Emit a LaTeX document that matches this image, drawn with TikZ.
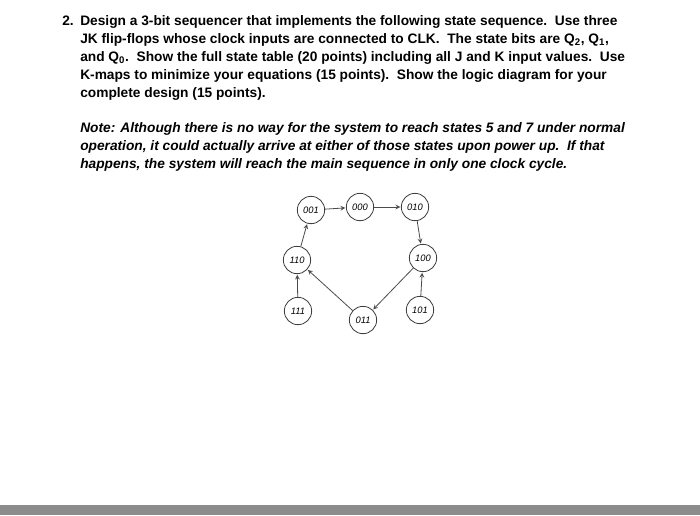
\documentclass[tikz,border=0pt]{standalone}
\usepackage{fontspec}
\setmainfont{Liberation Sans}
\begin{document}
\begin{tikzpicture}[x=0.75pt,y=-0.75pt,
  ln/.style={anchor=base west,inner sep=0pt,font=\fontsize{10.3}{11}\selectfont\bfseries},
  st/.style={circle,draw=black!75,line width=0.6pt,minimum size=20.5pt,inner sep=0pt,font=\fontsize{7}{8}\selectfont\itshape},
  ar/.style={->,>=stealth,draw=black!70,line width=0.6pt,shorten >=0.5pt}]
\fill[white] (0,0) rectangle (700,515);
\fill[black!45] (0,505) rectangle (700,515);
\node[ln] (n2) at (62,25) {2.};
\node[ln] (l1) at (80,25) {Design a 3-bit sequencer that implements the following state sequence.\ \ Use three};
\node[ln] (l2) at (80,43) {JK flip-flops whose clock inputs are connected to CLK.\ \ The state bits are Q\textsubscript{2}, Q\textsubscript{1},};
\node[ln] (l3) at (80,61) {and Q\textsubscript{0}.\ \ Show the full state table (20 points) including all J and K input values.\ \ Use};
\node[ln] (l4) at (80,79) {K-maps to minimize your equations (15 points).\ \ Show the logic diagram for your};
\node[ln] (l5) at (80,97) {complete design (15 points).};
\node[ln,font=\fontsize{10.3}{11}\selectfont\bfseries\itshape] (m1) at (80,132) {Note: Although there is no way for the system to reach states 5 and 7 under normal};
\node[ln,font=\fontsize{10.3}{11}\selectfont\bfseries\itshape] (m2) at (80,150) {operation, it could actually arrive at either of those states upon power up.\ \ If that};
\node[ln,font=\fontsize{10.3}{11}\selectfont\bfseries\itshape] (m3) at (80,168) {happens, the system will reach the main sequence in only one clock cycle.};
\node[st] (s001) at (311,210) {001};
\node[st] (s000) at (360,207) {000};
\node[st] (s010) at (415,207) {010};
\node[st] (s110) at (297,260) {110};
\node[st] (s100) at (423,258) {100};
\node[st] (s111) at (298,311) {111};
\node[st] (s011) at (363,320) {011};
\node[st] (s101) at (420,310) {101};
\draw[ar] (s001) -- (s000);
\draw[ar] (s000) -- (s010);
\draw[ar] (s010) -- (s100);
\draw[ar] (s100) -- (s011);
\draw[ar] (s011) -- (s110);
\draw[ar] (s110) -- (s001);
\draw[ar] (s111) -- (s110);
\draw[ar] (s101) -- (s100);
\end{tikzpicture}
\end{document}
